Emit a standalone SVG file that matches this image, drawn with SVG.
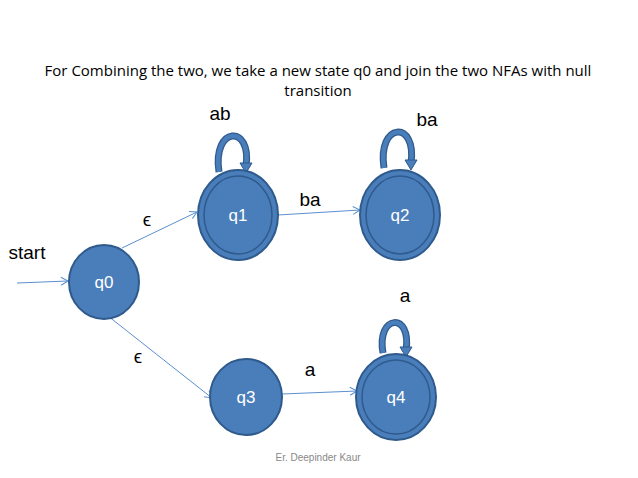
<svg xmlns="http://www.w3.org/2000/svg" width="638" height="478" viewBox="0 0 638 478">
<defs>
<style>
.n{fill:#4a7ebb;stroke:#2f5a8c;stroke-width:2}
.in{fill:none;stroke:#2f5a8c;stroke-width:1.5}
.s{fill:#fff;font-family:"Liberation Sans",Arial,sans-serif;font-size:17px;text-anchor:middle}
.l{fill:#000;font-family:"Liberation Sans",Arial,sans-serif;font-size:19px;text-anchor:middle}
.e{stroke:#5b8fd0;stroke-width:1;fill:none;marker-end:url(#a)}
.lo{fill:none;stroke:#2f5a8c;stroke-width:7}
.li{fill:none;stroke:#4a7ebb;stroke-width:4.5}
.t{font-family:"Open Sans","Liberation Sans",sans-serif;font-size:15px;text-anchor:middle}
</style>
<marker id="a" markerWidth="10" markerHeight="10" refX="8" refY="5" orient="auto" markerUnits="userSpaceOnUse"><path d="M1,1 L8,5 L1,9" fill="none" stroke="#5b8fd0" stroke-width="1"/></marker>
</defs>
<rect width="638" height="478" fill="#fff"/>
<text class="t" x="318" y="76">For Combining the two, we take a new state q0 and join the two NFAs with  null</text>
<text class="t" x="318" y="96">transition</text>
<g id="edges">
<line class="e" x1="17" y1="283" x2="68" y2="281"/>
<line class="e" x1="122" y1="248" x2="197" y2="212"/>
<line class="e" x1="278" y1="215" x2="360" y2="210"/>
<line class="e" x1="108" y1="316" x2="212" y2="398"/>
<line class="e" x1="282" y1="394" x2="357" y2="391"/>
<path class="lo" d="M219,172 C212,126 252,124 246,166"/><path class="li" d="M219,172 C212,126 252,124 246,166"/>
<path d="M240,163 L246,173 L252,163 Z" fill="#4a7ebb" stroke="#2f5a8c"/>
<path class="lo" d="M384,168 C377,122 417,120 411,163"/><path class="li" d="M384,168 C377,122 417,120 411,163"/>
<path d="M405,160 L411,170 L417,160 Z" fill="#4a7ebb" stroke="#2f5a8c"/>
<path class="lo" d="M383,353 C376,314 412,312 406,350"/><path class="li" d="M383,353 C376,314 412,312 406,350"/>
<path d="M400,347 L406,357 L412,347 Z" fill="#4a7ebb" stroke="#2f5a8c"/>
</g>
<g id="q0"><ellipse class="n" cx="104" cy="282" rx="35" ry="37"/><text class="s" x="104" y="288">q0</text></g>
<g id="q1"><ellipse class="n" cx="238" cy="215" rx="40" ry="45"/><ellipse class="in" cx="238" cy="215" rx="34" ry="39"/><text class="s" x="238" y="221">q1</text></g>
<g id="q2"><ellipse class="n" cx="400" cy="215" rx="40" ry="45"/><ellipse class="in" cx="400" cy="215" rx="34" ry="39"/><text class="s" x="400" y="221">q2</text></g>
<g id="q3"><ellipse class="n" cx="246" cy="397" rx="36" ry="38"/><text class="s" x="246" y="403">q3</text></g>
<g id="q4"><ellipse class="n" cx="396" cy="397" rx="40" ry="43"/><ellipse class="in" cx="396" cy="397" rx="34" ry="37"/><text class="s" x="396" y="403">q4</text></g>
<g id="labels">
<text class="l" x="27" y="259">start</text>
<text class="l" x="147" y="226">ϵ</text>
<text class="l" x="138" y="363">ϵ</text>
<text class="l" x="220" y="120">ab</text>
<text class="l" x="427" y="126">ba</text>
<text class="l" x="310" y="206">ba</text>
<text class="l" x="405" y="302">a</text>
<text class="l" x="310" y="376">a</text>
</g>
<text x="318" y="461" font-family="Liberation Sans,Arial,sans-serif" font-size="10" fill="#888" text-anchor="middle">Er. Deepinder Kaur</text>
</svg>
